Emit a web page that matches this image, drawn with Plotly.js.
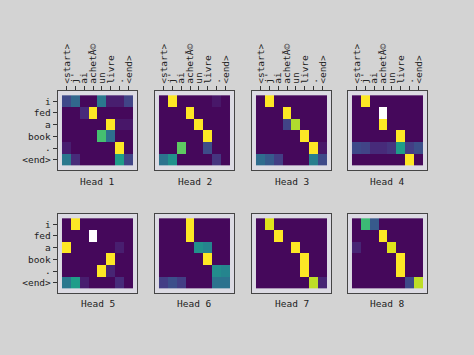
<!DOCTYPE html>
<html>
<head>
<meta charset="utf-8">
<script src="https://cdn.plot.ly/plotly-3.0.1.min.js"></script>
<style>html,body{margin:0;padding:0;background:#d3d3d3;}#chart{width:474px;height:355px;}</style>
</head>
<body>
<div id="chart"></div>
<script>
// Source (French) tokens on x, target (English) tokens on y
const srcTokens = ["<start>", "j'", "ai", "achetÃ©", "un", "livre", ".", "<end>"];
const tgtTokens = ["i", "fed", "a", "book", ".", "<end>"];
const headTitles = ["Head 1", "Head 2", "Head 3", "Head 4", "Head 5", "Head 6", "Head 7", "Head 8"];

// Attention weights per head (rows = target tokens, cols = source tokens); 1.1 = saturated (white)
const head1 = [
  [0.22, 0.33, 0.02, 0.02, 0.40, 0.08, 0.08, 0.20],
  [0.02, 0.02, 0.12, 1.00, 0.02, 0.02, 0.02, 0.02],
  [0.02, 0.02, 0.02, 0.02, 0.02, 1.00, 0.06, 0.06],
  [0.02, 0.02, 0.02, 0.02, 0.70, 0.36, 0.02, 0.02],
  [0.08, 0.02, 0.02, 0.02, 0.02, 0.02, 1.00, 0.02],
  [0.40, 0.12, 0.02, 0.02, 0.02, 0.02, 0.55, 0.20]
];
const head2 = [
  [0.02, 1.00, 0.02, 0.02, 0.02, 0.02, 0.06, 0.02],
  [0.02, 0.02, 0.02, 1.00, 0.02, 0.02, 0.02, 0.02],
  [0.02, 0.02, 0.02, 0.02, 1.00, 0.02, 0.02, 0.02],
  [0.02, 0.02, 0.02, 0.02, 0.02, 1.00, 0.02, 0.02],
  [0.02, 0.02, 0.75, 0.02, 0.02, 0.23, 0.02, 0.02],
  [0.38, 0.50, 0.02, 0.02, 0.02, 0.02, 0.15, 0.02]
];
const head3 = [
  [0.02, 1.00, 0.02, 0.02, 0.02, 0.02, 0.02, 0.02],
  [0.02, 0.02, 0.02, 1.00, 0.02, 0.02, 0.02, 0.02],
  [0.02, 0.02, 0.02, 0.20, 0.88, 0.02, 0.02, 0.02],
  [0.02, 0.02, 0.02, 0.02, 0.02, 1.00, 0.02, 0.02],
  [0.02, 0.02, 0.02, 0.02, 0.02, 0.02, 1.00, 0.06],
  [0.35, 0.28, 0.18, 0.02, 0.02, 0.02, 0.42, 0.22]
];
const head4 = [
  [0.02, 1.00, 0.02, 0.02, 0.02, 0.02, 0.02, 0.02],
  [0.02, 0.02, 0.02, 1.10, 0.02, 0.02, 0.02, 0.02],
  [0.02, 0.02, 0.02, 1.00, 0.02, 0.02, 0.02, 0.02],
  [0.02, 0.02, 0.02, 0.02, 0.02, 1.00, 0.02, 0.02],
  [0.22, 0.20, 0.12, 0.12, 0.15, 0.55, 0.18, 0.24],
  [0.02, 0.02, 0.02, 0.02, 0.02, 0.02, 1.00, 0.02]
];
const head5 = [
  [0.02, 1.00, 0.02, 0.02, 0.02, 0.02, 0.02, 0.02],
  [0.02, 0.02, 0.02, 1.10, 0.02, 0.02, 0.02, 0.02],
  [1.00, 0.02, 0.02, 0.02, 0.02, 0.02, 0.08, 0.02],
  [0.02, 0.02, 0.02, 0.02, 0.02, 1.00, 0.02, 0.02],
  [0.02, 0.02, 0.02, 0.02, 1.00, 0.10, 0.02, 0.02],
  [0.40, 0.55, 0.08, 0.02, 0.02, 0.02, 0.12, 0.02]
];
const head6 = [
  [0.02, 0.02, 0.02, 1.00, 0.02, 0.02, 0.02, 0.02],
  [0.02, 0.02, 0.02, 1.00, 0.02, 0.02, 0.02, 0.02],
  [0.02, 0.02, 0.02, 0.02, 0.50, 0.45, 0.02, 0.02],
  [0.02, 0.02, 0.02, 0.02, 0.02, 1.00, 0.02, 0.02],
  [0.02, 0.02, 0.02, 0.02, 0.02, 0.02, 0.48, 0.45],
  [0.18, 0.24, 0.18, 0.02, 0.02, 0.02, 0.38, 0.38]
];
const head7 = [
  [0.02, 0.95, 0.02, 0.02, 0.02, 0.02, 0.02, 0.02],
  [0.02, 0.02, 1.00, 0.02, 0.02, 0.02, 0.02, 0.02],
  [0.02, 0.02, 0.02, 0.02, 1.00, 0.02, 0.02, 0.02],
  [0.02, 0.02, 0.02, 0.02, 0.02, 1.00, 0.02, 0.02],
  [0.02, 0.02, 0.02, 0.02, 0.02, 1.00, 0.02, 0.02],
  [0.02, 0.02, 0.02, 0.02, 0.02, 0.02, 0.90, 0.10]
];
const head8 = [
  [0.02, 0.68, 0.28, 0.02, 0.02, 0.02, 0.02, 0.02],
  [0.02, 0.02, 0.02, 1.00, 0.02, 0.02, 0.02, 0.02],
  [0.10, 0.02, 0.02, 0.02, 0.95, 0.02, 0.02, 0.02],
  [0.02, 0.02, 0.02, 0.02, 0.02, 1.00, 0.02, 0.02],
  [0.02, 0.02, 0.02, 0.02, 0.02, 1.00, 0.02, 0.02],
  [0.02, 0.02, 0.02, 0.02, 0.02, 0.02, 0.22, 0.90]
];
const heads = [head1, head2, head3, head4, head5, head6, head7, head8];

// Viridis with a white "over" colour above 1.0
const viridis = ['#440154','#48186a','#472d7b','#424086','#3b528b','#33638d','#2c728e','#26828e',
  '#21918c','#1fa088','#28ae80','#3fbc73','#5ec962','#84d44b','#addc30','#d8e219','#fde725'];
const zMax = 1.1;
const colorscale = viridis.map((c, i) => [(i / (viridis.length - 1)) / zMax, c]);
colorscale.push([1 / zMax + 0.001, '#ffffff']);
colorscale.push([1, '#ffffff']);

const W = 474, H = 355;
const colLeft = [58, 155, 252, 348];
const frameW = 79;
const rowTop = [91, 214];
const frameH = 79;
const titleY = [181, 303];

const font = {family: 'DejaVu Sans Mono, monospace', size: 9.5, color: '#222'};
const xIdx = srcTokens.map((_, i) => i);
const yIdx = tgtTokens.map((_, i) => i);

const traces = [];
const layout = {
  width: W, height: H,
  margin: {l: 0, r: 0, t: 0, b: 0},
  paper_bgcolor: '#d3d3d3',
  plot_bgcolor: '#dcdbe3',
  showlegend: false,
  font: font,
  annotations: []
};

heads.forEach((z, k) => {
  const r = Math.floor(k / 4), c = k % 4;
  const n = k + 1;
  const xa = 'x' + (n === 1 ? '' : n), ya = 'y' + (n === 1 ? '' : n);
  traces.push({
    type: 'heatmap', z: z, x: xIdx, y: yIdx,
    xaxis: xa, yaxis: ya,
    colorscale: colorscale, zmin: 0, zmax: zMax,
    showscale: false, hoverinfo: 'skip'
  });
  const x0 = colLeft[c] / W, x1 = (colLeft[c] + frameW) / W;
  const y0 = 1 - (rowTop[r] + frameH) / H, y1 = 1 - rowTop[r] / H;
  layout['xaxis' + (n === 1 ? '' : n)] = {
    domain: [x0, x1], anchor: ya,
    range: [-0.95, srcTokens.length - 1 + 0.95],
    side: 'top',
    tickvals: xIdx, ticktext: srcTokens,
    ticks: r === 0 ? 'outside' : '', ticklen: 4, tickcolor: '#333', tickwidth: 1,
    showticklabels: r === 0, tickangle: -90, tickfont: font,
    showgrid: false, zeroline: false,
    showline: true, mirror: true, linecolor: '#454545', linewidth: 1.3,
    fixedrange: true
  };
  layout['yaxis' + (n === 1 ? '' : n)] = {
    domain: [y0, y1], anchor: xa,
    range: [tgtTokens.length - 1 + 0.87, -0.87],
    tickvals: yIdx, ticktext: tgtTokens,
    ticks: c === 0 ? 'outside' : '', ticklen: 4, tickcolor: '#333', tickwidth: 1,
    showticklabels: c === 0, tickfont: font,
    showgrid: false, zeroline: false,
    showline: true, mirror: true, linecolor: '#454545', linewidth: 1.3,
    fixedrange: true
  };
  layout.annotations.push({
    text: headTitles[k], xref: 'paper', yref: 'paper',
    x: (x0 + x1) / 2, y: 1 - titleY[r] / H,
    xanchor: 'center', yanchor: 'middle', showarrow: false,
    font: {family: 'DejaVu Sans Mono, monospace', size: 9.5, color: '#222'}
  });
});

Plotly.newPlot('chart', traces, layout, {staticPlot: true, displayModeBar: false});
</script>
</body>
</html>
